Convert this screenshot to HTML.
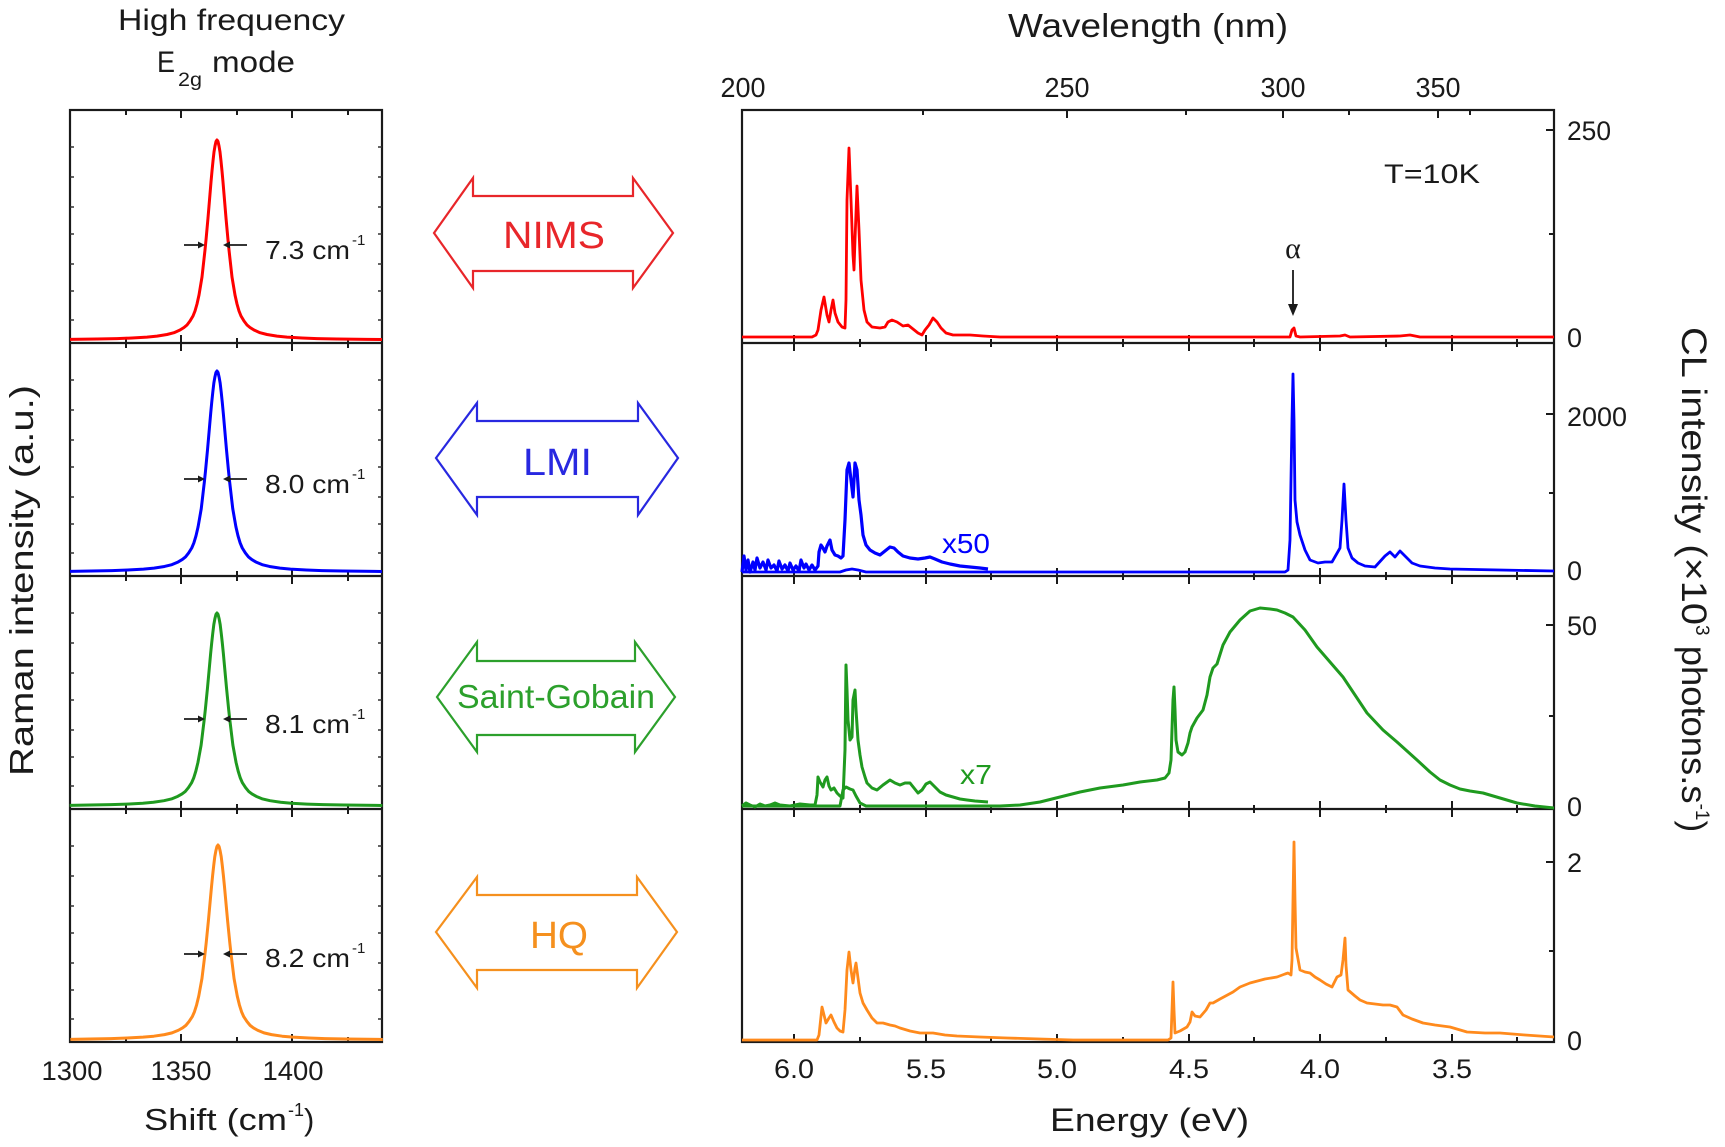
<!DOCTYPE html>
<html><head><meta charset="utf-8"><style>
html,body{margin:0;padding:0;background:#fff;}
svg{display:block;}
text{font-family:"Liberation Sans",Arial,sans-serif;fill:#1a1a1a;}
</style></head><body>
<svg width="1725" height="1147" viewBox="0 0 1725 1147" xmlns="http://www.w3.org/2000/svg">
<rect width="1725" height="1147" fill="#fff"/>

<!-- ===== Left titles ===== -->
<text x="118" y="30" font-size="30" textLength="227" lengthAdjust="spacingAndGlyphs">High frequency</text>
<text x="157" y="72" font-size="30" textLength="18" lengthAdjust="spacingAndGlyphs">E</text>
<text x="178" y="86" font-size="19" textLength="24" lengthAdjust="spacingAndGlyphs">2g</text>
<text x="212" y="72" font-size="30" textLength="83" lengthAdjust="spacingAndGlyphs">mode</text>

<!-- Raman axis label -->
<text transform="translate(33,776) rotate(-90)" x="0" y="0" font-size="33" textLength="391" lengthAdjust="spacingAndGlyphs">Raman intensity (a.u.)</text>

<!-- ===== Left panels frame ===== -->
<g stroke="#1a1a1a" stroke-width="2.2" fill="none">
<rect x="70" y="110" width="312" height="932"/>
<line x1="70" y1="343" x2="382" y2="343"/>
<line x1="70" y1="576" x2="382" y2="576"/>
<line x1="70" y1="809" x2="382" y2="809"/>
</g>
<!-- left x ticks -->
<g stroke="#1a1a1a" stroke-width="2">
<path d="M181,110v8 M292,110v8 M126,110v5 M237,110v5 M348,110v5"/>
<path d="M181,335v16 M292,335v16 M126,338v10 M237,338v10 M348,338v10"/>
<path d="M181,568v16 M292,568v16 M126,571v10 M237,571v10 M348,571v10"/>
<path d="M181,801v16 M292,801v16 M126,804v10 M237,804v10 M348,804v10"/>
<path d="M181,1034v8 M292,1034v8 M126,1037v5 M237,1037v5 M348,1037v5"/>
</g>
<!-- left y small ticks -->
<g stroke="#333" stroke-width="1.5">
<path d="M70,147h4 M70,177h4 M70,207h4 M70,234h4 M70,264h4 M70,291h4 M70,320h4 M382,147h-4 M382,177h-4 M382,207h-4 M382,234h-4 M382,264h-4 M382,291h-4 M382,320h-4"/>
<path d="M70,380h4 M70,410h4 M70,440h4 M70,467h4 M70,497h4 M70,524h4 M70,553h4 M382,380h-4 M382,410h-4 M382,440h-4 M382,467h-4 M382,497h-4 M382,524h-4 M382,553h-4"/>
<path d="M70,613h4 M70,643h4 M70,673h4 M70,700h4 M70,730h4 M70,757h4 M70,786h4 M382,613h-4 M382,643h-4 M382,673h-4 M382,700h-4 M382,730h-4 M382,757h-4 M382,786h-4"/>
<path d="M70,846h4 M70,876h4 M70,906h4 M70,933h4 M70,963h4 M70,990h4 M70,1019h4 M382,846h-4 M382,876h-4 M382,906h-4 M382,933h-4 M382,963h-4 M382,990h-4 M382,1019h-4"/>
</g>

<!-- Raman peaks -->
<g fill="none" stroke-width="3" stroke-linejoin="round">
<path transform="translate(217,340)" stroke="#ff0000" vector-effect="non-scaling-stroke" d="M-147,-0.6 L-120,-1 L-100,-1.4 L-85,-2 L-70,-2.9 L-60,-3.9 L-50,-5.5 L-43,-7.3 L-37,-10 L-33,-12.5 L-30,-15 L-27,-19 L-24,-24 L-22,-29 L-20,-36 L-18,-45 L-17,-51 L-15,-63 L-14,-72 L-13,-81 L-12,-90 L-11,-100 L-10,-111 L-9,-122 L-8,-134 L-7,-146 L-6,-158 L-5,-169 L-4,-179 L-3,-188 L-2,-194 L-1,-198.5 L0,-200 L1,-198.5 L2,-194 L3,-188 L4,-179 L5,-169 L6,-158 L7,-146 L8,-134 L9,-122 L10,-111 L11,-100 L12,-90 L13,-81 L14,-72 L15,-63 L17,-51 L18,-45 L20,-36 L22,-29 L24,-24 L27,-19 L30,-15 L33,-12.5 L37,-10 L43,-7.3 L50,-5.5 L60,-3.9 L70,-2.9 L85,-2 L100,-1.4 L120,-1 L150,-0.6 L165,-0.5"/>
<path transform="translate(217,572) scale(1.05,1.005)" stroke="#0000ff" vector-effect="non-scaling-stroke" d="M-140,-0.6 L-120,-1 L-100,-1.4 L-85,-2 L-70,-2.9 L-60,-3.9 L-50,-5.5 L-43,-7.3 L-37,-10 L-33,-12.5 L-30,-15 L-27,-19 L-24,-24 L-22,-29 L-20,-36 L-18,-45 L-17,-51 L-15,-63 L-14,-72 L-13,-81 L-12,-90 L-11,-100 L-10,-111 L-9,-122 L-8,-134 L-7,-146 L-6,-158 L-5,-169 L-4,-179 L-3,-188 L-2,-194 L-1,-198.5 L0,-200 L1,-198.5 L2,-194 L3,-188 L4,-179 L5,-169 L6,-158 L7,-146 L8,-134 L9,-122 L10,-111 L11,-100 L12,-90 L13,-81 L14,-72 L15,-63 L17,-51 L18,-45 L20,-36 L22,-29 L24,-24 L27,-19 L30,-15 L33,-12.5 L37,-10 L43,-7.3 L50,-5.5 L60,-3.9 L70,-2.9 L85,-2 L100,-1.4 L120,-1 L150,-0.6 L157,-0.5"/>
<path transform="translate(217,806) scale(1.06,0.965)" stroke="#1f9a1f" vector-effect="non-scaling-stroke" d="M-139,-0.6 L-120,-1 L-100,-1.4 L-85,-2 L-70,-2.9 L-60,-3.9 L-50,-5.5 L-43,-7.3 L-37,-10 L-33,-12.5 L-30,-15 L-27,-19 L-24,-24 L-22,-29 L-20,-36 L-18,-45 L-17,-51 L-15,-63 L-14,-72 L-13,-81 L-12,-90 L-11,-100 L-10,-111 L-9,-122 L-8,-134 L-7,-146 L-6,-158 L-5,-169 L-4,-179 L-3,-188 L-2,-194 L-1,-198.5 L0,-200 L1,-198.5 L2,-194 L3,-188 L4,-179 L5,-169 L6,-158 L7,-146 L8,-134 L9,-122 L10,-111 L11,-100 L12,-90 L13,-81 L14,-72 L15,-63 L17,-51 L18,-45 L20,-36 L22,-29 L24,-24 L27,-19 L30,-15 L33,-12.5 L37,-10 L43,-7.3 L50,-5.5 L60,-3.9 L70,-2.9 L85,-2 L100,-1.4 L120,-1 L150,-0.6 L156,-0.5"/>
<path transform="translate(218,1040) scale(1.07,0.975)" stroke="#ff8a1c" vector-effect="non-scaling-stroke" d="M-138,-0.6 L-120,-1 L-100,-1.4 L-85,-2 L-70,-2.9 L-60,-3.9 L-50,-5.5 L-43,-7.3 L-37,-10 L-33,-12.5 L-30,-15 L-27,-19 L-24,-24 L-22,-29 L-20,-36 L-18,-45 L-17,-51 L-15,-63 L-14,-72 L-13,-81 L-12,-90 L-11,-100 L-10,-111 L-9,-122 L-8,-134 L-7,-146 L-6,-158 L-5,-169 L-4,-179 L-3,-188 L-2,-194 L-1,-198.5 L0,-200 L1,-198.5 L2,-194 L3,-188 L4,-179 L5,-169 L6,-158 L7,-146 L8,-134 L9,-122 L10,-111 L11,-100 L12,-90 L13,-81 L14,-72 L15,-63 L17,-51 L18,-45 L20,-36 L22,-29 L24,-24 L27,-19 L30,-15 L33,-12.5 L37,-10 L43,-7.3 L50,-5.5 L60,-3.9 L70,-2.9 L85,-2 L100,-1.4 L120,-1 L150,-0.6 L154,-0.5"/>
</g>

<!-- FWHM arrows & labels -->
<g stroke="#1a1a1a" stroke-width="1.8" fill="#1a1a1a">
<path d="M184,245H200 M228,245H247" fill="none"/>
<path d="M205,245l-7,-3.5v7z M223,245l7,-3.5v7z" stroke="none"/>
<path d="M184,479H200 M228,479H247" fill="none"/>
<path d="M205,479l-7,-3.5v7z M223,479l7,-3.5v7z" stroke="none"/>
<path d="M184,719H200 M228,719H247" fill="none"/>
<path d="M205,719l-7,-3.5v7z M223,719l7,-3.5v7z" stroke="none"/>
<path d="M184,954H200 M228,954H247" fill="none"/>
<path d="M205,954l-7,-3.5v7z M223,954l7,-3.5v7z" stroke="none"/>
</g>
<g font-size="26">
<text x="265" y="259" textLength="85" lengthAdjust="spacingAndGlyphs">7.3 cm</text><text x="352" y="245" font-size="15">-1</text>
<text x="265" y="493" textLength="85" lengthAdjust="spacingAndGlyphs">8.0 cm</text><text x="352" y="479" font-size="15">-1</text>
<text x="265" y="733" textLength="85" lengthAdjust="spacingAndGlyphs">8.1 cm</text><text x="352" y="719" font-size="15">-1</text>
<text x="265" y="967" textLength="85" lengthAdjust="spacingAndGlyphs">8.2 cm</text><text x="352" y="953" font-size="15">-1</text>
</g>

<!-- left x tick labels -->
<g font-size="27" text-anchor="middle">
<text x="72" y="1080" textLength="61" lengthAdjust="spacingAndGlyphs">1300</text>
<text x="181" y="1080" textLength="61" lengthAdjust="spacingAndGlyphs">1350</text>
<text x="293" y="1080" textLength="61" lengthAdjust="spacingAndGlyphs">1400</text>
</g>
<text x="144" y="1130" font-size="31" textLength="143" lengthAdjust="spacingAndGlyphs">Shift (cm</text>
<text x="288" y="1116" font-size="18">-1</text>
<text x="304" y="1130" font-size="31">)</text>

<!-- ===== Middle arrows ===== -->
<g fill="none" stroke-width="2.2" stroke-linejoin="miter">
<polygon stroke="#e8262a" points="434,233 473,178 473,196 633,196 633,178 673,233 633,288 633,271 473,271 473,288"/>
<polygon stroke="#2828e0" points="436,458 477,403 477,421 638,421 638,403 678,458 638,515 638,497 477,497 477,515"/>
<polygon stroke="#2ca02c" points="437,697 477,642 477,661 635,661 635,642 675,697 635,752 635,735 477,735 477,752"/>
<polygon stroke="#f5901e" points="436,932 477,877 477,895 637,895 637,877 677,932 637,988 637,970 477,970 477,988"/>
</g>
<text x="503" y="248" font-size="38" style="fill:#e8262a" textLength="102" lengthAdjust="spacingAndGlyphs">NIMS</text>
<text x="523" y="475" font-size="38" style="fill:#2828e0" textLength="69" lengthAdjust="spacingAndGlyphs">LMI</text>
<text x="457" y="708" font-size="33" style="fill:#2ca02c" textLength="198" lengthAdjust="spacingAndGlyphs">Saint-Gobain</text>
<text x="530" y="948" font-size="38" style="fill:#f5901e" textLength="58" lengthAdjust="spacingAndGlyphs">HQ</text>

<!-- ===== Right panels ===== -->
<text x="1008" y="37" font-size="33" textLength="280" lengthAdjust="spacingAndGlyphs">Wavelength (nm)</text>
<g font-size="28" text-anchor="middle">
<text x="743" y="97" textLength="45" lengthAdjust="spacingAndGlyphs">200</text>
<text x="1067" y="97" textLength="45" lengthAdjust="spacingAndGlyphs">250</text>
<text x="1283" y="97" textLength="45" lengthAdjust="spacingAndGlyphs">300</text>
<text x="1438" y="97" textLength="45" lengthAdjust="spacingAndGlyphs">350</text>
</g>

<g stroke="#1a1a1a" stroke-width="2.2" fill="none">
<rect x="742" y="110" width="812" height="932"/>
<line x1="742" y1="343" x2="1554" y2="343"/>
<line x1="742" y1="576" x2="1554" y2="576"/>
<line x1="742" y1="809" x2="1554" y2="809"/>
</g>
<!-- top wavelength ticks -->
<g stroke="#1a1a1a" stroke-width="2">
<path d="M1067,110v8 M1283,110v8 M1438,110v8 M923,110v5 M1186,110v5 M1349,110v5 M1470,110v5"/>
</g>
<!-- energy ticks -->
<g stroke="#1a1a1a" stroke-width="2">
<path d="M794,335v16 M926,335v16 M1057,335v16 M1189,335v16 M1320,335v16 M1452,335v16 M860,339v8 M991,339v8 M1123,339v8 M1254,339v8 M1386,339v8 M1517,339v8"/>
<path d="M794,568v16 M926,568v16 M1057,568v16 M1189,568v16 M1320,568v16 M1452,568v16 M860,572v8 M991,572v8 M1123,572v8 M1254,572v8 M1386,572v8 M1517,572v8"/>
<path d="M794,801v16 M926,801v16 M1057,801v16 M1189,801v16 M1320,801v16 M1452,801v16 M860,805v8 M991,805v8 M1123,805v8 M1254,805v8 M1386,805v8 M1517,805v8"/>
<path d="M794,1034v8 M926,1034v8 M1057,1034v8 M1189,1034v8 M1320,1034v8 M1452,1034v8 M860,1037v5 M991,1037v5 M1123,1037v5 M1254,1037v5 M1386,1037v5 M1517,1037v5"/>
</g>
<!-- right y ticks -->
<g stroke="#1a1a1a" stroke-width="2">
<path d="M1554,130h-8 M1554,234h-5 M1554,414h-8 M1554,493h-5 M1554,625h-8 M1554,716h-5 M1554,862h-8 M1554,951h-5"/>
</g>
<g font-size="27">
<text x="1567" y="140" textLength="44" lengthAdjust="spacingAndGlyphs">250</text>
<text x="1567" y="347">0</text>
<text x="1567" y="426" textLength="60" lengthAdjust="spacingAndGlyphs">2000</text>
<text x="1567" y="580">0</text>
<text x="1567" y="635" textLength="30" lengthAdjust="spacingAndGlyphs">50</text>
<text x="1567" y="816">0</text>
<text x="1567" y="872">2</text>
<text x="1567" y="1050">0</text>
</g>

<!-- CL label -->
<text transform="translate(1682,327) rotate(90)" x="0" y="0" font-size="35"><tspan textLength="298" lengthAdjust="spacingAndGlyphs">CL intensity (×10</tspan><tspan dy="-14" font-size="19">3</tspan><tspan dy="14" textLength="168" lengthAdjust="spacingAndGlyphs"> photons.s</tspan><tspan dy="-14" font-size="19">-1</tspan><tspan dy="14">)</tspan></text>

<!-- energy labels -->
<g font-size="27" text-anchor="middle">
<text x="794" y="1078" textLength="40" lengthAdjust="spacingAndGlyphs">6.0</text>
<text x="926" y="1078" textLength="40" lengthAdjust="spacingAndGlyphs">5.5</text>
<text x="1057" y="1078" textLength="40" lengthAdjust="spacingAndGlyphs">5.0</text>
<text x="1189" y="1078" textLength="40" lengthAdjust="spacingAndGlyphs">4.5</text>
<text x="1320" y="1078" textLength="40" lengthAdjust="spacingAndGlyphs">4.0</text>
<text x="1452" y="1078" textLength="40" lengthAdjust="spacingAndGlyphs">3.5</text>
</g>
<text x="1050" y="1131" font-size="32" textLength="199" lengthAdjust="spacingAndGlyphs">Energy (eV)</text>

<!-- annotations -->
<text x="1384" y="183" font-size="27" textLength="96" lengthAdjust="spacingAndGlyphs">T=10K</text>
<text x="1293" y="258" font-size="30" text-anchor="middle" style="font-family:'Liberation Serif',serif">α</text>
<line x1="1293" y1="270" x2="1293" y2="308" stroke="#1a1a1a" stroke-width="1.8"/>
<path d="M1288,304 L1298,304 L1293,316z" fill="#1a1a1a"/>
<text x="942" y="553" font-size="28" style="fill:#0000ff" textLength="48" lengthAdjust="spacingAndGlyphs">x50</text>
<text x="960" y="784" font-size="28" style="fill:#1f9a1f" textLength="32" lengthAdjust="spacingAndGlyphs">x7</text>

<!-- CL spectra -->
<g fill="none" stroke-linejoin="round" stroke-width="2.8">
<polyline stroke="#ff0000" points="742,337 812,337 816,335 818,330 821,310 824,297 827,315 829,322 831,310 833,300 835,313 838,322 842,327 845,328 846,300 847,200 849,148 851,200 853,255 854,270 855,240 857,186 859,230 861,280 864,310 867,322 872,327 880,328 885,327 888,322 892,320 897,322 903,326 908,325 913,329 918,333 922,335 925,330 929,325 933,318 937,322 941,328 946,333 953,335 970,335 983,336 1000,337 1290,337 1292,330 1294,328 1296,336 1300,337 1340,336 1345,335 1350,337 1400,336 1410,335 1420,337 1554,337"/>

<polyline stroke="#0000ff" points="742,572 840,572 846,570 852,569 858,570 866,572 1285,572 1288,570 1290,540 1292,420 1293,374 1294,420 1295,500 1297,522 1300,535 1305,550 1310,560 1318,563 1325,562 1332,562 1336,555 1340,548 1342,520 1344,484 1346,520 1348,548 1352,558 1358,563 1365,566 1375,567 1385,556 1390,552 1395,557 1400,551 1405,556 1412,563 1420,566 1435,568 1450,569 1500,570 1554,571"/>
<polyline stroke="#0000ff" stroke-width="3.2" points="742,572 744,556 746,570 748,560 750,572 753,562 755,570 757,558 760,568 763,562 766,570 768,560 771,568 774,565 777,571 779,561 782,569 785,565 788,571 790,563 793,570 796,566 799,571 801,560 804,568 806,564 809,570 812,565 815,570 818,566 819,552 821,545 823,548 825,552 827,546 830,540 832,550 835,555 838,556 841,558 843,556 845,520 847,470 849,463 851,480 853,497 854,480 855,463 857,470 859,500 861,515 863,535 866,545 870,550 875,553 880,555 885,551 890,547 894,548 898,552 903,556 910,558 918,559 925,558 930,557 935,559 942,562 950,564 960,566 970,567 980,568 988,569"/>

<polyline stroke="#1f9a1f" stroke-width="3" points="742,806 815,806 840,806 843,790 846,787 850,789 853,790 856,796 860,803 866,806 1000,806 1020,805 1040,802 1060,797 1080,792 1100,788 1123,785 1140,782 1157,780 1165,778 1169,773 1171,760 1173,700 1174,687 1175,710 1176,740 1178,752 1182,755 1185,752 1188,743 1190,733 1192,727 1197,718 1203,710 1207,695 1210,677 1213,668 1217,664 1223,645 1230,632 1240,620 1250,611 1260,608 1270,609 1277,610 1285,613 1293,617 1305,630 1317,647 1330,662 1343,677 1355,695 1367,713 1383,730 1397,742 1407,751 1417,760 1430,772 1440,780 1450,785 1460,789 1470,791 1483,793 1500,798 1517,803 1535,806 1554,808"/>
<polyline stroke="#1f9a1f" stroke-width="3" points="742,806 746,803 750,805 755,807 760,804 765,806 770,805 775,803 780,805 790,806 800,804 810,805 815,805 817,795 818,777 820,782 823,787 825,780 827,777 829,786 831,790 834,788 837,793 840,796 843,798 845,750 846,665 847,690 848,720 850,740 852,737 853,700 855,690 856,710 858,740 860,755 862,767 865,777 867,783 872,788 877,790 883,785 890,780 895,783 900,785 905,783 910,783 914,788 918,793 922,790 926,784 930,782 934,786 940,792 946,795 953,797 960,799 967,800 975,801 988,802"/>

<polyline stroke="#ff8a1c" points="742,1040 817,1040 819,1035 822,1007 824,1015 826,1023 829,1018 831,1015 834,1022 837,1028 840,1031 843,1032 845,1010 847,970 849,952 851,970 853,983 855,968 856,963 858,978 860,993 863,1003 867,1010 872,1018 877,1023 883,1023 890,1025 895,1026 900,1028 910,1031 920,1033 933,1033 945,1035 957,1036 980,1037 1007,1038 1040,1039 1073,1040 1168,1040 1171,1038 1172,1010 1173,982 1174,1010 1175,1033 1180,1031 1187,1027 1190,1022 1192,1012 1195,1016 1200,1017 1206,1010 1210,1003 1213,1003 1220,999 1233,992 1240,987 1250,983 1265,979 1277,977 1285,974 1288,973 1291,975 1292,960 1293,900 1294,842 1295,900 1296,948 1300,970 1305,972 1310,973 1315,977 1320,980 1326,984 1332,987 1335,981 1337,977 1341,975 1343,960 1345,938 1346,965 1348,990 1355,996 1360,1000 1367,1003 1375,1004 1383,1005 1390,1005 1397,1007 1403,1015 1412,1019 1423,1023 1435,1025 1450,1027 1467,1032 1485,1033 1500,1033 1525,1035 1554,1037"/>
</g>
</svg>
</body></html>
